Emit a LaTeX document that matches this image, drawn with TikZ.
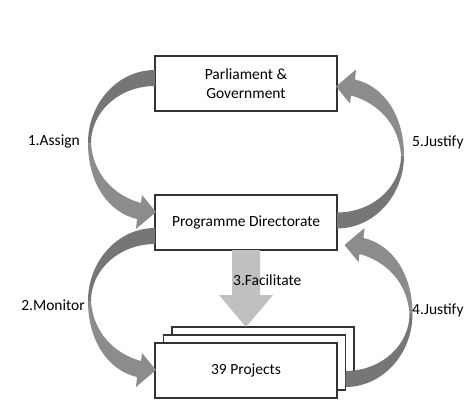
\documentclass[tikz,border=0pt]{standalone}
\usepackage{fontspec}
\setmainfont{Carlito}
\usepackage{xcolor}
\usetikzlibrary{positioning, calc}
\definecolor{bendback}{RGB}{118,118,118}
\definecolor{bendfront}{RGB}{140,140,140}
\definecolor{facilgray}{RGB}{192,192,192}

\begin{document}
\begin{tikzpicture}[x=1pt, y=1pt, node distance=80pt,
            font=\fontsize{15.5}{19}\selectfont,
            box/.style={draw=black!80, line width=1.3pt, fill=white, rectangle, minimum height=55pt, minimum width=182pt, align=center, outer sep=0pt},
            lbl/.style={inner sep=0pt},
            bendarrow/.pic={
                \fill[bendback] (0,0) .. controls (-37,0) and (-67,-33) .. (-67,-73) -- (-64,-73) .. controls (-64,-42) and (-36,-16) .. (0,-16) -- cycle;
                \fill[bendfront] (-67,-73) .. controls (-67,-115) and (-45,-143) .. (-18,-149) -- (-19,-159) -- (1,-142) -- (-13,-125) -- (-14,-133) .. controls (-40,-126) and (-62,-105) .. (-64,-73) -- cycle;
            }]
            \useasboundingbox (0,0) rectangle (474,416);

            \node[box] (parl) at (246,332.5) {Parliament \&\\Government};
            \node[box, below=84pt of parl] (dir) {Programme Directorate};
            \node[box, below=77pt of dir, xshift=17pt] (proj3) {};
            \node[box] (proj2) at ($(proj3)+(-8.5,-8)$) {};
            \node[box] (proj) at ($(proj2)+(-8.5,-8)$) {39 Projects};

            \fill[facilgray] ($(dir.south)+(-14,0)$) -- ++(28,0) -- ++(0,-45) -- ++(13,0) -- (dir.south |- proj3.north) -- ++(-27,32) -- ++(13,0) -- cycle;
            \node[lbl, anchor=west] (facil) at ($(dir.south)+(-13,-30)$) {3.Facilitate};

            \pic at ($(parl.west)+(0,13.5)$) {bendarrow};
            \pic at ($(dir.west)+(0,-5.5)$) {bendarrow};
            \pic[rotate=180] at ($(dir.east)+(0,-6)$) {bendarrow};
            \pic[rotate=180] at ($(proj2.south east)+(0,3)$) {bendarrow};

            \node[lbl, anchor=east] (assign) at (80,275) {1.Assign};
            \node[lbl, anchor=east] (monitor) at (85,111) {2.Monitor};
            \node[lbl, anchor=west] (justa) at (412,274) {5.Justify};
            \node[lbl, anchor=west] (justb) at (412,106) {4.Justify};
        \end{tikzpicture}
\end{document}
